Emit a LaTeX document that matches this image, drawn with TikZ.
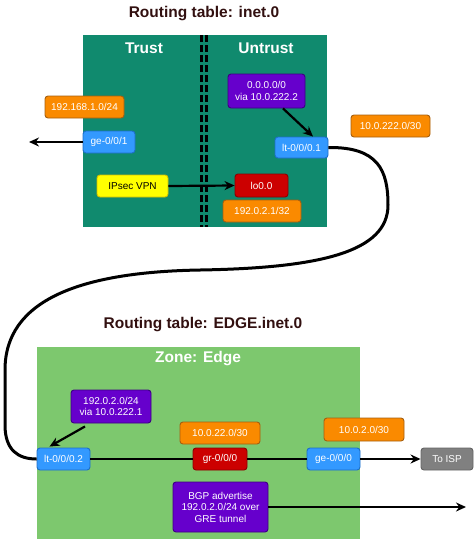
\documentclass[tikz,border=0pt]{standalone}
\usepackage{fontspec}
\setmainfont{Liberation Sans}
\usetikzlibrary{arrows.meta,calc}
\definecolor{tealbg}{RGB}{16,138,110}
\definecolor{greenbg}{RGB}{125,200,110}
\definecolor{orfill}{RGB}{250,138,0}
\definecolor{ordraw}{RGB}{165,95,15}
\definecolor{blfill}{RGB}{51,153,255}
\definecolor{bldraw}{RGB}{30,110,200}
\definecolor{pufill}{RGB}{102,0,204}
\definecolor{pudraw}{RGB}{60,0,130}
\definecolor{rdfill}{RGB}{204,0,0}
\definecolor{rddraw}{RGB}{140,0,0}
\definecolor{yefill}{RGB}{255,255,0}
\definecolor{yedraw}{RGB}{210,190,0}
\definecolor{gyfill}{RGB}{128,128,128}
\definecolor{gydraw}{RGB}{100,100,100}
\definecolor{titlecol}{RGB}{50,16,16}
\tikzset{
  base/.style={rounded corners=3pt, line width=0.9pt, inner sep=0pt, align=center,
    font=\fontsize{10}{11.5}\selectfont, text=white},
  orbox/.style={base, fill=orfill, draw=ordraw},
  blbox/.style={base, fill=blfill, draw=bldraw},
  pubox/.style={base, fill=pufill, draw=pudraw},
  rdbox/.style={base, fill=rdfill, draw=rddraw},
  yebox/.style={base, fill=yefill, draw=yedraw, text=black},
  gybox/.style={base, fill=gyfill, draw=gydraw},
  ttl/.style={font=\bfseries\fontsize{15.5}{18}\selectfont, text=titlecol},
  zonettl/.style={font=\bfseries\fontsize{15.5}{18}\selectfont, text=white},
  arr/.style={line width=2.2pt, -{Stealth[length=10pt,width=9pt]}},
  conn/.style={line width=1.7pt},
}
\begin{document}
\begin{tikzpicture}[x=1pt,y=-1pt]
\useasboundingbox (0,0) rectangle (474,539);
% zones
\fill[tealbg] (83,35) rectangle (327,227);
\fill[greenbg] (37,347) rectangle (360,539);
\draw[line width=2.2pt, dash pattern=on 7pt off 3pt] (201.5,35) -- (201.5,227);
\draw[line width=2.2pt, dash pattern=on 7pt off 3pt] (206.5,35) -- (206.5,227);
% titles
\node[ttl] (t1) at (204,14) {Routing table: inet.0};
\node[ttl] (t2) at (203,325) {Routing table: EDGE.inet.0};
\node[zonettl] (trust) at (144,48) {Trust};
\node[zonettl] (untrust) at (266,48) {Untrust};
\node[zonettl] (zone) at (198,359) {Zone: Edge};
% top nodes
\node[pubox, minimum width=77pt, minimum height=34pt] (pur1) at (266.5,91) {0.0.0.0/0\\via 10.0.222.2};
\node[orbox, minimum width=79pt, minimum height=22pt] (or1) at (84.5,107) {192.168.1.0/24};
\node[blbox, minimum width=52pt, minimum height=22pt] (ge1) at (109,142) {ge-0/0/1};
\node[blbox, minimum width=53pt, minimum height=21pt] (lt1) at (301.5,147.5) {lt-0/0/0.1};
\node[orbox, minimum width=79pt, minimum height=22pt] (or2) at (390.5,126) {10.0.222.0/30};
\node[yebox, minimum width=71pt, minimum height=22pt] (ipsec) at (132.5,186) {IPsec VPN};
\node[rdbox, minimum width=53pt, minimum height=23pt] (lo0) at (261.5,185.5) {lo0.0};
\node[orbox, minimum width=78pt, minimum height=22pt] (or3) at (262,211) {192.0.2.1/32};
% bottom nodes
\node[pubox, minimum width=80pt, minimum height=33pt] (pur2) at (111,406.5) {192.0.2.0/24\\via 10.0.222.1};
\node[orbox, minimum width=80pt, minimum height=22pt] (or4) at (220,433) {10.0.22.0/30};
\node[rdbox, minimum width=54pt, minimum height=22pt] (gr) at (220,459) {gr-0/0/0};
\node[orbox, minimum width=80pt, minimum height=23pt] (or5) at (364,429.5) {10.0.2.0/30};
\node[blbox, minimum width=53pt, minimum height=22pt] (ge0) at (333.5,459) {ge-0/0/0};
\node[gybox, minimum width=52pt, minimum height=22pt] (isp) at (447,459) {To ISP};
\node[blbox, minimum width=53pt, minimum height=22pt] (lt2) at (63.5,459) {lt-0/0/0.2};
\node[pubox, minimum width=95pt, minimum height=50pt] (bgp) at (220.5,507) {BGP advertise\\192.0.2.0/24 over\\GRE tunnel};
\coordinate (leftend) at (29,142);
\coordinate (rightend) at (466,507);
% connectors
\draw[arr] (ge1.west) -- (leftend);
\draw[arr] (ipsec.east) -- (lo0.west);
\draw[arr] ($(pur1.south)+(16.5,0)$) -- ($(lt1.north)+(11.5,0)$);
\draw[arr] ($(pur2.south)+(-26,3)$) -- ($(lt2.north)+(-14,-1)$);
\draw[conn] (lt2.east) -- (gr.west);
\draw[conn] (gr.east) -- (ge0.west);
\draw[arr] (ge0.east) -- (isp.west);
\draw[arr] (bgp.east) -- (rightend);
\draw[line width=3pt] (lt1.east) .. controls (378,147) and (388,170) .. (388,205)
  .. controls (388,252) and (320,268) .. (200,270)
  .. controls (80,272) and (5,300) .. (5,370)
  -- (5,425) .. controls (5,450) and (18,459) .. (lt2.west);
\end{tikzpicture}
\end{document}
